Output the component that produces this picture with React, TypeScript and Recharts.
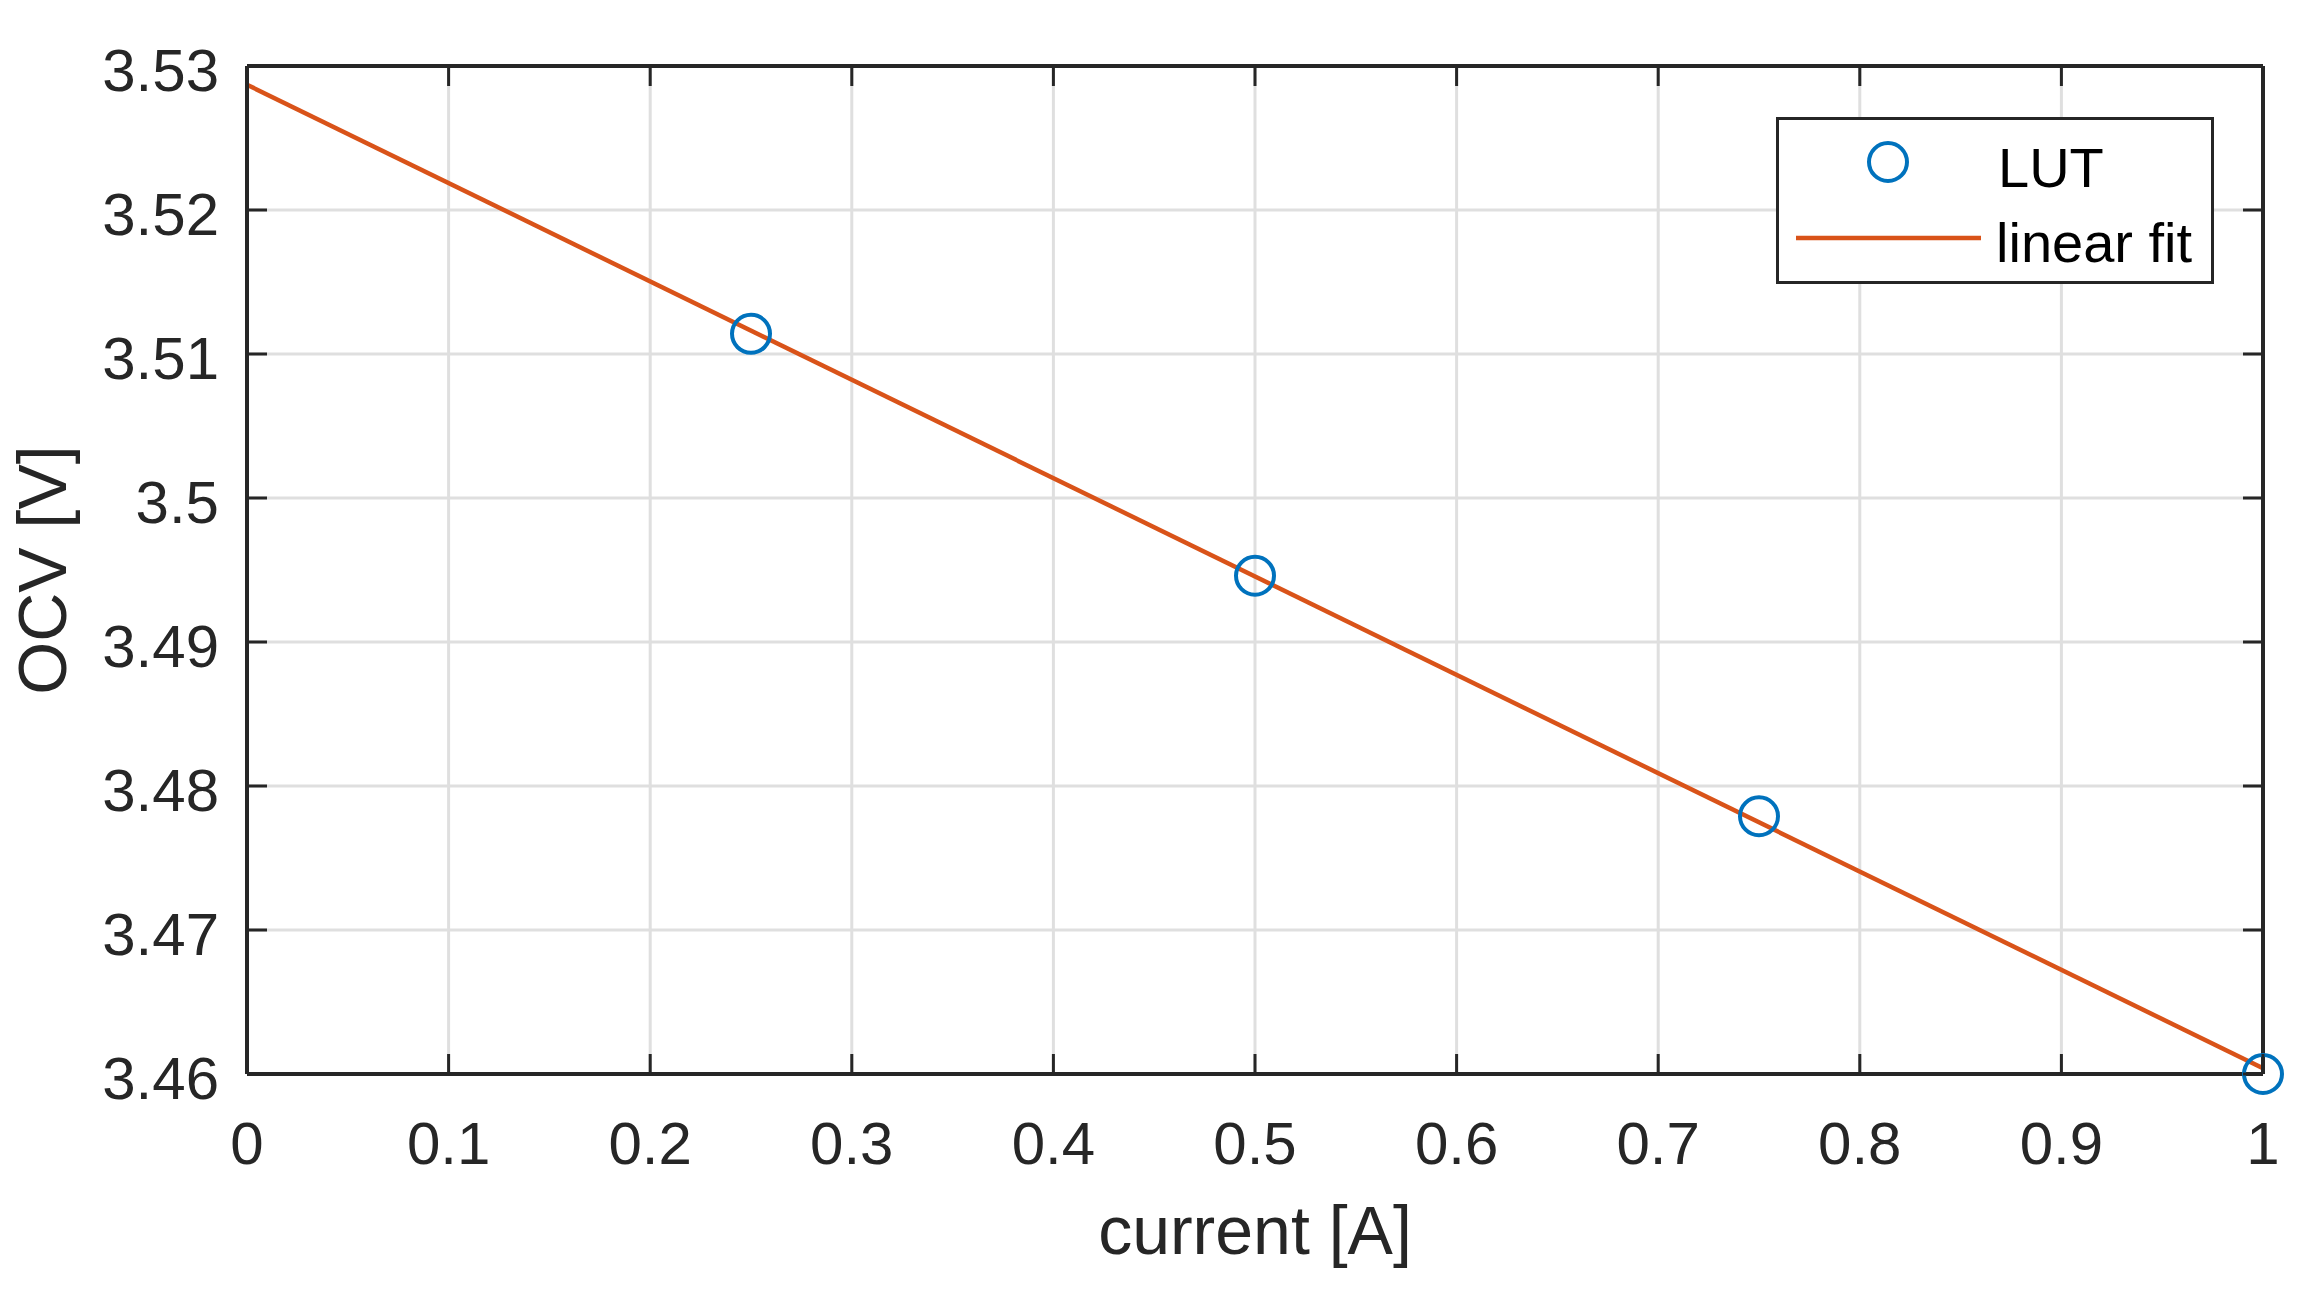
import React from "react";
import {
  ComposedChart,
  Line,
  Scatter,
  XAxis,
  YAxis,
  CartesianGrid,
  Legend,
  Label,
} from "recharts";

// LUT measurements
const lutCurrent = [0.25, 0.5, 0.75, 1];
const lutOcv = [3.5114, 3.4946, 3.4779, 3.46];

// linear fit (end points)
const fitCurrent = [0, 1];
const fitOcv = [3.5287, 3.4604];

const xTicks = [0, 0.1, 0.2, 0.3, 0.4, 0.5, 0.6, 0.7, 0.8, 0.9, 1];
const yTicks = [3.46, 3.47, 3.48, 3.49, 3.5, 3.51, 3.52, 3.53];

const lutData = lutCurrent.map((x, i) => ({ x, y: lutOcv[i] }));
const fitData = fitCurrent.map((x, i) => ({ x, y: fitOcv[i] }));

const FONT = '"Liberation Sans", Arial, Helvetica, sans-serif';
const AXIS_COLOR = "#262626";
const BLUE = "#0072BD";
const ORANGE = "#D95319";
const TICK_LEN = 20;

// chart layout
const W = 2306;
const H = 1291;
const M_LEFT = 247;
const M_RIGHT = 43;
const M_TOP = 66;
const M_BOTTOM = 217;
const PLOT_W = W - M_LEFT - M_RIGHT;
const PLOT_H = H - M_TOP - M_BOTTOM;

// bottom ticks also draw the matching tick on the top edge
function BottomTick(props: any) {
  const { x, y, payload } = props;
  const top = y - PLOT_H;
  return (
    <g>
      <line x1={x} y1={y} x2={x} y2={y - TICK_LEN} stroke={AXIS_COLOR} strokeWidth={3} />
      <line x1={x} y1={top} x2={x} y2={top + TICK_LEN} stroke={AXIS_COLOR} strokeWidth={3} />
      <text x={x} y={y + 90} textAnchor="middle" fontSize={60} fontFamily={FONT} fill={AXIS_COLOR}>
        {payload.value}
      </text>
    </g>
  );
}

// left ticks also draw the matching tick on the right edge
function LeftTick(props: any) {
  const { x, y, payload } = props;
  const right = x + PLOT_W;
  return (
    <g>
      <line x1={x} y1={y} x2={x + TICK_LEN} y2={y} stroke={AXIS_COLOR} strokeWidth={3} />
      <line x1={right} y1={y} x2={right - TICK_LEN} y2={y} stroke={AXIS_COLOR} strokeWidth={3} />
      <text x={x - 28} y={y + 25} textAnchor="end" fontSize={60} fontFamily={FONT} fill={AXIS_COLOR}>
        {payload.value}
      </text>
    </g>
  );
}

function OpenCircle(props: any) {
  const { cx, cy } = props;
  return <circle cx={cx} cy={cy} r={19} fill="none" stroke={BLUE} strokeWidth={4} />;
}

function LegendBox(props: any) {
  const payload = props.payload || [];
  const lut = payload.find((p: any) => p.value === "LUT");
  const fit = payload.find((p: any) => p.value === "linear fit");
  return (
    <svg width={438} height={167} style={{ display: "block" }}>
      <rect x={1.5} y={1.5} width={435} height={164} fill="#fff" stroke={AXIS_COLOR} strokeWidth={3} />
      <circle cx={112} cy={45} r={19} fill="none" stroke={lut ? lut.color : BLUE} strokeWidth={4} />
      <text x={222} y={70} fontSize={56} fontFamily={FONT} fill="#000">
        LUT
      </text>
      <line x1={20} y1={121} x2={205} y2={121} stroke={fit ? fit.color : ORANGE} strokeWidth={4.5} />
      <text x={220} y={145} fontSize={56} fontFamily={FONT} fill="#000">
        linear fit
      </text>
    </svg>
  );
}

export default function App() {
  return (
    <div style={{ position: "absolute", left: 0, top: 0, background: "#fff" }}>
      <ComposedChart
        width={W}
        height={H}
        margin={{ top: 0, right: 0, bottom: 0, left: 0 }}
        style={{ fontFamily: FONT }}
      >
        <CartesianGrid xAxisId="bottom" yAxisId="left" stroke="#dfdfdf" strokeWidth={3} />
        <XAxis
          xAxisId="bottom"
          type="number"
          dataKey="x"
          domain={[0, 1]}
          ticks={xTicks}
          orientation="bottom"
          height={M_BOTTOM}
          tickSize={0}
          tickMargin={0}
          tick={<BottomTick />}
          axisLine={{ stroke: AXIS_COLOR, strokeWidth: 4 }}
        >
          <Label
            content={(p: any) => {
              const vb = p.viewBox;
              return (
                <text
                  x={vb.x + vb.width / 2}
                  y={vb.y + 180}
                  textAnchor="middle"
                  fontSize={68}
                  fontFamily={FONT}
                  fill={AXIS_COLOR}
                >
                  current [A]
                </text>
              );
            }}
          />
        </XAxis>
        <XAxis
          xAxisId="top"
          type="number"
          domain={[0, 1]}
          orientation="top"
          height={M_TOP}
          tick={false}
          tickLine={false}
          axisLine={{ stroke: AXIS_COLOR, strokeWidth: 4 }}
        />
        <YAxis
          yAxisId="left"
          type="number"
          domain={[3.46, 3.53]}
          ticks={yTicks}
          orientation="left"
          width={M_LEFT}
          tickSize={0}
          tickMargin={0}
          tick={<LeftTick />}
          axisLine={{ stroke: AXIS_COLOR, strokeWidth: 4 }}
        >
          <Label
            content={(p: any) => {
              const vb = p.viewBox;
              const cx = vb.x + 66;
              const cy = vb.y + vb.height / 2;
              return (
                <text
                  x={cx}
                  y={cy}
                  transform={`rotate(-90 ${cx} ${cy})`}
                  textAnchor="middle"
                  fontSize={68}
                  fontFamily={FONT}
                  fill={AXIS_COLOR}
                >
                  OCV [V]
                </text>
              );
            }}
          />
        </YAxis>
        <YAxis
          yAxisId="right"
          type="number"
          domain={[3.46, 3.53]}
          orientation="right"
          width={M_RIGHT}
          tick={false}
          tickLine={false}
          axisLine={{ stroke: AXIS_COLOR, strokeWidth: 4 }}
        />
        <Line
          xAxisId="bottom"
          yAxisId="left"
          data={fitData}
          dataKey="y"
          name="linear fit"
          type="linear"
          stroke={ORANGE}
          strokeWidth={4.5}
          dot={false}
          legendType="line"
          isAnimationActive={false}
        />
        <Scatter
          xAxisId="bottom"
          yAxisId="left"
          data={lutData}
          dataKey="y"
          name="LUT"
          fill={BLUE}
          shape={<OpenCircle />}
          legendType="circle"
          isAnimationActive={false}
        />
        <Legend
          layout="vertical"
          align="center"
          verticalAlign="middle"
          content={<LegendBox />}
          wrapperStyle={{ left: 1776, top: 117, width: 438, height: 167 }}
        />
      </ComposedChart>
    </div>
  );
}
